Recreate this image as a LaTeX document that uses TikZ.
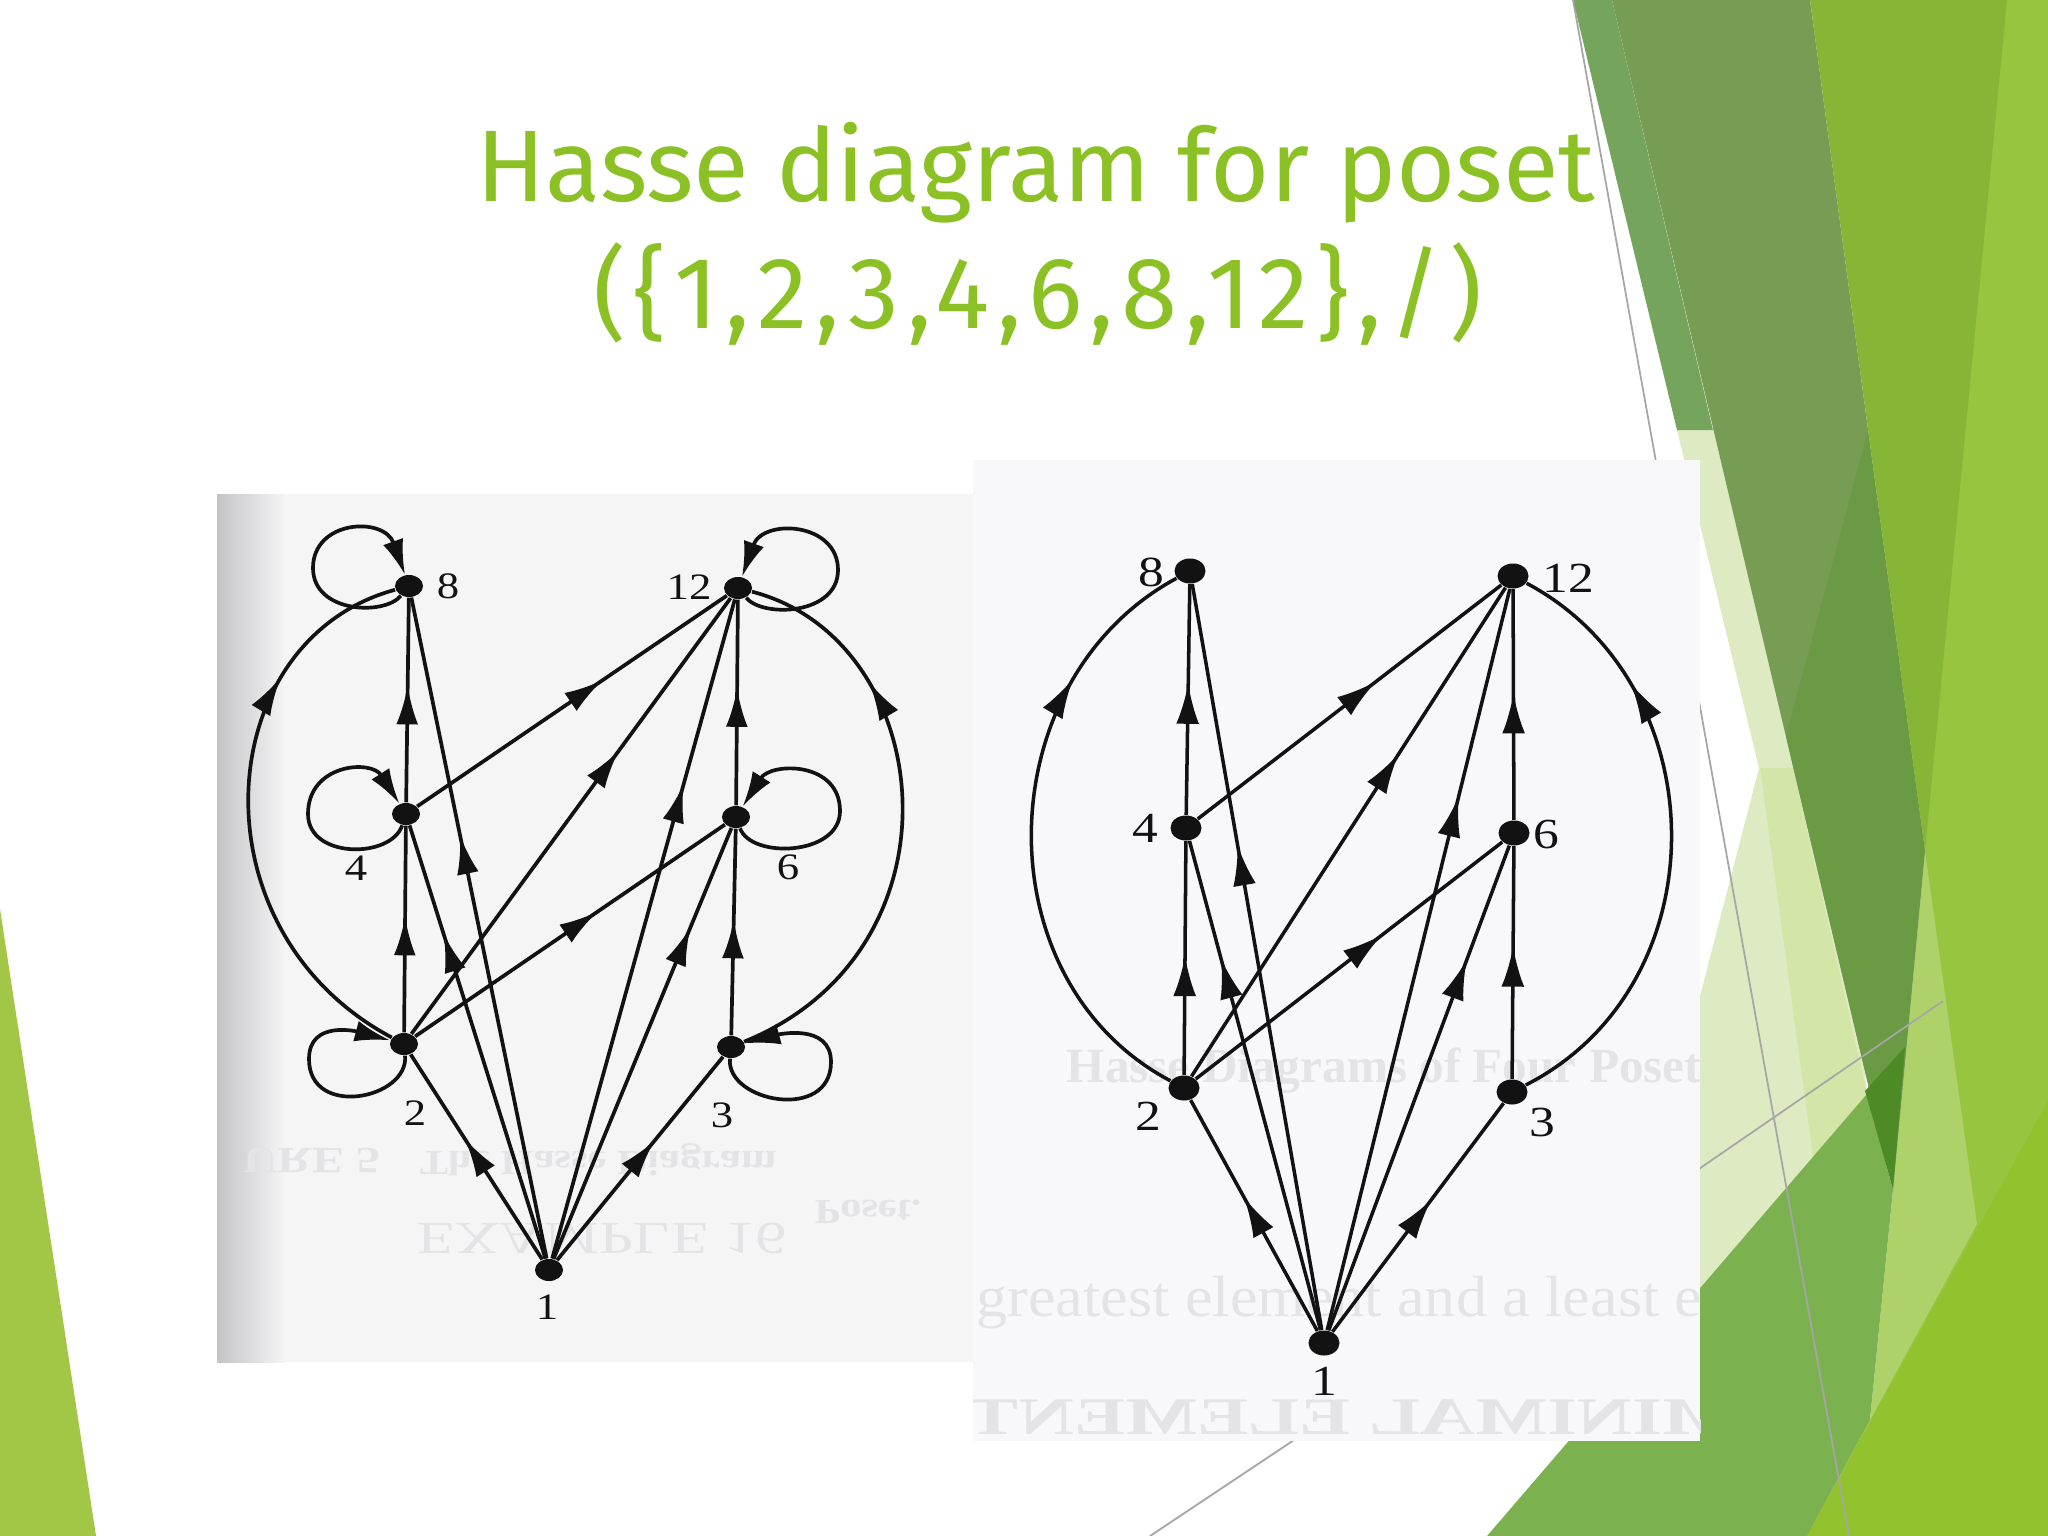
\documentclass[tikz,border=0pt]{standalone}
\usepackage{fontspec}
\usepackage{graphicx}
\setmainfont{Liberation Serif}
\newfontfamily\titlefont{Fira Sans}
\newfontfamily\titlefontsp[LetterSpace=7.5]{Fira Sans}
\usetikzlibrary{arrows.meta,decorations.markings,shapes.geometric,calc}
\definecolor{titlegreen}{RGB}{140,193,38}
\definecolor{gLeft}{RGB}{162,198,70}
\definecolor{gLight}{RGB}{152,197,64}
\definecolor{gBottom}{RGB}{147,194,47}
\definecolor{gPale}{RGB}{222,235,194}
\definecolor{gBand}{RGB}{211,230,167}
\definecolor{gStrip}{RGB}{117,165,92}
\definecolor{gOlive}{RGB}{119,156,84}
\definecolor{gOliveD}{RGB}{106,154,68}
\definecolor{gDark}{RGB}{78,138,37}
\definecolor{gMed}{RGB}{123,178,79}
\definecolor{gBright}{RGB}{135,181,54}
\definecolor{photoL}{RGB}{245,245,246}
\definecolor{photoLd}{RGB}{196,196,198}
\definecolor{photoR}{RGB}{248,248,250}
\definecolor{ghost}{RGB}{228,228,230}
\definecolor{ink}{RGB}{18,18,18}
\newcommand{\hs}[1]{\scalebox{1.2}[1]{#1}}
\begin{document}
\begin{tikzpicture}[x=0.01cm,y=-0.01cm,
  edgeL/.style={line width=1.05pt, draw=ink},
  edgeR/.style={line width=1pt, draw=ink},
  arrL/.style={decoration={markings, mark=at position #1 with {\arrow{Latex[length=11pt,width=6.2pt]}}}, postaction={decorate}},
  arrR/.style={decoration={markings, mark=at position #1 with {\arrow{Latex[length=11.5pt,width=6.5pt]}}}, postaction={decorate}},
  loopL/.style={-{Latex[length=10pt,width=6pt]}},
  dotL/.style={ellipse, fill=ink, inner sep=0pt, minimum width=0.28cm, minimum height=0.22cm},
  dotR/.style={ellipse, fill=ink, inner sep=0pt, minimum width=0.31cm, minimum height=0.25cm},
  labL/.style={inner sep=0pt, text=ink, font=\fontsize{10.6pt}{12pt}\selectfont},
  labR/.style={inner sep=0pt, text=ink, font=\fontsize{12.2pt}{14pt}\selectfont},
  ghosttext/.style={inner sep=0pt, text=ghost},
  gline/.style={draw=black!35, line width=0.5pt},
  titl/.style={anchor=base, inner sep=0pt, text=titlegreen, font=\fontsize{28.9pt}{34pt}\selectfont}
]
\useasboundingbox (0,0) rectangle (2048,1536);
\fill[white] (0,0) rectangle (2048,1536);
% ---------- background decoration ----------
\fill[gLeft] (0,909) -- (96,1536) -- (0,1536) -- cycle;
\fill[gLight] (1900,0) -- (2048,0) -- (2048,1536) -- (1807,1536) -- (1870,1420) -- (1893,1190) -- (1925,851) -- cycle;
\fill[gBottom] (1807,1536) -- (2048,1101) -- (2048,1536) -- cycle;
\fill[gPale] (1677,430) -- (1800,430) -- (1867,1094) -- (1580,1460) -- (1759,768) -- cycle;
\fill[gBand] (1760,768) -- (1793,768) -- (1867,1094) -- (1813,1157) -- cycle;
\fill[gStrip] (1573,0) -- (1612,0) -- (1713,430) -- (1677,430) -- cycle;
\fill[gOlive] (1612,0) -- (1810,0) -- (1925,851) -- (1893,1190) -- cycle;
\fill[gOliveD] (1868,431) -- (1925,851) -- (1893,1190) -- (1786,736) -- cycle;
\fill[gMed] (1487,1536) -- (1867,1094) -- (1893,1190) -- (1870,1420) -- (1807,1536) -- cycle;
\fill[gDark] (1865,1091) -- (1905,1047) -- (1893,1189) -- cycle;
\fill[gBright] (1810,0) -- (2007,0) -- (1925,851) -- cycle;
\fill[white, opacity=0.22] (1925,851) -- (1977,1224) -- (1870,1420) -- (1893,1190) -- cycle;
\draw[gline] (1573,0) -- (1849,1536);
\draw[gline] (1600,1237) -- (1943,1001);
\draw[gline] (1150,1536) -- (1300,1436);
% ---------- photos ----------
\fill[photoL] (217,494) rectangle (973,1362);
\shade[left color=photoLd, right color=photoL] (217,494) rectangle (285,1362);
\fill[photoR] (973,460) rectangle (1700,1441);
% faint show-through text of the scanned pages
\begin{scope}
\clip (217,494) rectangle (973,1362);
\node[ghosttext, font=\bfseries\fontsize{10.5pt}{12pt}\selectfont] (gh1) at (312,1160) {\scalebox{1.3}[-1]{URE 5}};
\node[ghosttext, font=\bfseries\fontsize{10pt}{12pt}\selectfont] (gh2) at (598,1160) {\scalebox{1.2}[-1]{The Hasse Diagram}};
\node[ghosttext, font=\bfseries\fontsize{10pt}{12pt}\selectfont] (gh3) at (868,1212) {\scalebox{1.2}[-1]{Poset.}};
\node[ghosttext, font=\fontsize{13pt}{15pt}\selectfont] (gh4) at (602,1238) {\scalebox{1.35}[-1]{EXAMPLE 16}};
\end{scope}
\begin{scope}
\clip (973,460) rectangle (1700,1441);
\node[ghosttext, anchor=west, font=\fontsize{16.5pt}{18pt}\selectfont] (gh5) at (976,1303) {\scalebox{1.07}[1]{greatest element and a least e}};
\node[ghosttext, font=\bfseries\fontsize{15pt}{17pt}\selectfont] (gh6) at (1330,1417) {\scalebox{-1.45}[1]{MINIMAL ELEMENTS}};
\node[ghosttext, anchor=west, font=\bfseries\fontsize{14pt}{16pt}\selectfont] (gh7) at (1066,1071) {Hasse Diagrams of Four Posets};
\end{scope}
% ---------- title ----------
\node[titl, font=\titlefont\fontsize{28.9pt}{34pt}\selectfont] (t1) at (1036,201) {Hasse diagram for poset};
\node[titl, font=\titlefontsp\fontsize{28.9pt}{34pt}\selectfont] (t2) at (1038,328) {(\{1,2,3,4,6,8,12\},/)};
% ---------- left diagram ----------
\node[dotL] (l8) at (409,586) {};
\node[dotL] (l12) at (738,588) {};
\node[dotL] (l4) at (406,814) {};
\node[dotL] (l6) at (736,817) {};
\node[dotL] (l2) at (404,1044) {};
\node[dotL] (l3) at (731,1047) {};
\node[dotL] (l1) at (549,1270) {};
\node[labL] (tl8) at (448,586) {\hs{8}};
\node[labL] (tl12) at (689,587) {\hs{12}};
\node[labL] (tl4) at (356,868) {\hs{4}};
\node[labL] (tl6) at (788,867) {\hs{6}};
\node[labL] (tl2) at (415,1113) {\hs{2}};
\node[labL] (tl3) at (722,1115) {\hs{3}};
\node[labL] (tl1) at (547,1307) {\hs{1}};
\draw[edgeL, arrL=0.59] (l1) -- (l2);
\draw[edgeL, arrL=0.59] (l1) -- (l3);
\draw[edgeL, arrL=0.75] (l1) -- (l4);
\draw[edgeL, arrL=0.77] (l1) -- (l6);
\draw[edgeL, arrL=0.64] (l1) -- (l8);
\draw[edgeL, arrL=0.72] (l1) -- (l12);
\draw[edgeL, arrL=0.56] (l2) -- (l4);
\draw[edgeL, arrL=0.59] (l2) -- (l6);
\draw[edgeL, arrL=0.65] (l2) -- (l12);
\draw[edgeL, arrL=0.74] (l2) .. controls (190,930) and (210,640) .. (l8);
\draw[edgeL, arrL=0.56] (l3) -- (l6);
\draw[edgeL, arrL=0.74] (l3) .. controls (970,950) and (938,640) .. (l12);
\draw[edgeL, arrL=0.57] (l4) -- (l8);
\draw[edgeL, arrL=0.60] (l4) -- (l12);
\draw[edgeL, arrL=0.57] (l6) -- (l12);
% loops
\draw[edgeL, loopL] (l8) .. controls +(-25,30) and +(0,45) .. ($(l8)+(-96,-18)$) .. controls +(0,-48) and +(-25,-70) .. (l8);
\draw[edgeL, loopL] (l4) .. controls +(-15,45) and +(0,45) .. ($(l4)+(-98,0)$) .. controls +(0,-50) and +(-35,-55) .. (l4);
\draw[edgeL, loopL] (l2) .. controls +(5,55) and +(0,60) .. ($(l2)+(-95,15)$) .. controls +(0,-40) and +(-45,-12) .. (l2);
\draw[edgeL, loopL] (l12) .. controls +(25,30) and +(0,45) .. ($(l12)+(100,-18)$) .. controls +(0,-48) and +(25,-70) .. (l12);
\draw[edgeL, loopL] (l6) .. controls +(15,42) and +(0,45) .. ($(l6)+(104,-6)$) .. controls +(0,-50) and +(35,-55) .. (l6);
\draw[edgeL, loopL] (l3) .. controls +(-5,55) and +(0,60) .. ($(l3)+(100,15)$) .. controls +(0,-40) and +(45,-12) .. (l3);
% ---------- right diagram ----------
\node[dotR] (r8) at (1190,571) {};
\node[dotR] (r12) at (1513,576) {};
\node[dotR] (r4) at (1186,828) {};
\node[dotR] (r6) at (1514,833) {};
\node[dotR] (r2) at (1184,1088) {};
\node[dotR] (r3) at (1512,1092) {};
\node[dotR] (r1) at (1324,1343) {};
\node[labR] (tr8) at (1151,572) {\hs{8}};
\node[labR] (tr12) at (1568,578) {\hs{12}};
\node[labR] (tr4) at (1145,828) {\hs{4}};
\node[labR] (tr6) at (1546,834) {\hs{6}};
\node[labR] (tr2) at (1148,1116) {\hs{2}};
\node[labR] (tr3) at (1542,1122) {\hs{3}};
\node[labR] (tr1) at (1324,1381) {\hs{1}};
\draw[edgeR, arrR=0.58] (r1) -- (r2);
\draw[edgeR, arrR=0.58] (r1) -- (r3);
\draw[edgeR, arrR=0.76] (r1) -- (r4);
\draw[edgeR, arrR=0.765] (r1) -- (r6);
\draw[edgeR, arrR=0.65] (r1) -- (r8);
\draw[edgeR, arrR=0.72] (r1) -- (r12);
\draw[edgeR, arrR=0.51] (r2) -- (r4);
\draw[edgeR, arrR=0.61] (r2) -- (r6);
\draw[edgeR, arrR=0.66] (r2) -- (r12);
\draw[edgeR, arrR=0.76] (r2) .. controls (980,980) and (988,680) .. (r8);
\draw[edgeR, arrR=0.57] (r3) -- (r6);
\draw[edgeR, arrR=0.76] (r3) .. controls (1722,985) and (1718,685) .. (r12);
\draw[edgeR, arrR=0.57] (r4) -- (r8);
\draw[edgeR, arrR=0.59] (r4) -- (r12);
\draw[edgeR, arrR=0.55] (r6) -- (r12);
\end{tikzpicture}
\end{document}
